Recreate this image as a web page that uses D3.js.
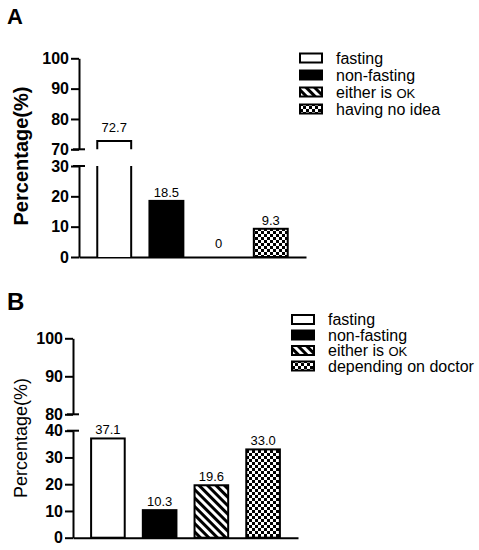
<!DOCTYPE html>
<head>
  <meta charset="utf-8">
  <title>Fasting survey bars</title>
  <script src="https://cdn.jsdelivr.net/npm/d3@7"></script>
  <style>
  body { margin: 0; background: white; }
  text { font-family: Arial, "Liberation Sans", sans-serif; }
  .axis path, .axis line { stroke: black; stroke-width: 2; }
  .axis text { font-size: 16px; font-weight: bold; fill: black; }
  </style>
</head>
<body>
<script>

// Data
var categoriesA = ["fasting", "non-fasting", "either is OK", "having no idea"];
var valuesA = [72.7, 18.5, 0, 9.3];
var labelsA = ["72.7", "18.5", "0", "9.3"];
var lowTicksA = [0, 10, 20, 30];
var highTicksA = [70, 80, 90, 100];

var categoriesB = ["fasting", "non-fasting", "either is OK", "depending on doctor"];
var valuesB = [37.1, 10.3, 19.6, 33.0];
var labelsB = ["37.1", "10.3", "19.6", "33.0"];
var lowTicksB = [0, 10, 20, 30, 40];
var highTicksB = [80, 90, 100];

var fills = ["white", "black", "url(#stripes)", "url(#checks)"];

var svg = d3.select("body").append("svg")
  .attr("width", 479)
  .attr("height", 550);

// Patterns for the hatched bars
var defs = svg.append("defs");
var stripes = defs.append("pattern")
  .attr("id", "stripes")
  .attr("patternUnits", "userSpaceOnUse")
  .attr("width", 6).attr("height", 6)
  .attr("patternTransform", "rotate(-45)");
stripes.append("rect").attr("width", 6).attr("height", 6).attr("fill", "white");
stripes.append("rect").attr("width", 3).attr("height", 6).attr("fill", "black");

var checks = defs.append("pattern")
  .attr("id", "checks")
  .attr("patternUnits", "userSpaceOnUse")
  .attr("width", 6).attr("height", 6);
checks.append("rect").attr("width", 6).attr("height", 6).attr("fill", "white");
checks.append("rect").attr("width", 3).attr("height", 3).attr("fill", "black");
checks.append("rect").attr("x", 3).attr("y", 3).attr("width", 3).attr("height", 3).attr("fill", "black");

function drawPanel(p) {
  var g = svg.append("g");

  // panel letter
  g.append("text")
    .attr("x", 7).attr("y", p.letterY)
    .style("font-size", p.letterSize + "px")
    .style("font-weight", "bold")
    .text(p.letter);

  // broken y axis: lower and upper segment
  var yLow = d3.scaleLinear().domain([0, d3.max(p.lowTicks)]).range([p.bottom, p.lowTop]);
  var yHigh = d3.scaleLinear().domain(d3.extent(p.highTicks)).range([p.highBottom, p.highTop]);

  var x = d3.scaleBand()
    .domain(p.categories)
    .range([p.left, p.right])
    .paddingInner(0.35)
    .paddingOuter(0.35);

  g.append("g").attr("class", "axis")
    .attr("transform", "translate(" + p.left + ",0)")
    .call(d3.axisLeft(yLow).tickValues(p.lowTicks).tickSize(8).tickSizeOuter(0).tickPadding(2));

  g.append("g").attr("class", "axis")
    .attr("transform", "translate(" + p.left + ",0)")
    .call(d3.axisLeft(yHigh).tickValues(p.highTicks).tickSize(8).tickSizeOuter(0).tickPadding(2));

  // caps at the break
  [p.lowTop, p.highBottom].forEach(function(yy) {
    g.append("line")
      .attr("x1", p.left - 6).attr("x2", p.left + 6)
      .attr("y1", yy).attr("y2", yy)
      .attr("stroke", "black").attr("stroke-width", 2);
  });

  // x axis line
  g.append("g").attr("class", "axis")
    .attr("transform", "translate(0," + p.bottom + ")")
    .call(d3.axisBottom(x).tickValues([]).tickSizeOuter(0));

  // y label
  g.append("text")
    .attr("transform", "translate(" + p.labelX + "," + p.labelY + ") rotate(-90)")
    .attr("text-anchor", "middle")
    .style("font-size", p.labelSize + "px")
    .style("font-weight", p.labelWeight)
    .text("Percentage(%)");

  var lowMax = d3.max(p.lowTicks);
  var bw = x.bandwidth();

  p.values.forEach(function(v, i) {
    var x0 = x(p.categories[i]);
    var top;
    if (v > lowMax) {
      // broken bar: open lower part + capped upper part
      top = yHigh(v);
      g.append("rect")
        .attr("x", x0).attr("y", p.lowTop)
        .attr("width", bw).attr("height", p.bottom - p.lowTop)
        .attr("fill", fills[i]);
      g.append("rect")
        .attr("x", x0).attr("y", top)
        .attr("width", bw).attr("height", p.highBottom - top)
        .attr("fill", fills[i]);
      g.append("path")
        .attr("d", "M" + x0 + "," + p.bottom + "V" + p.lowTop +
                   "M" + (x0 + bw) + "," + p.bottom + "V" + p.lowTop +
                   "M" + x0 + "," + p.highBottom + "V" + top + "H" + (x0 + bw) + "V" + p.highBottom)
        .attr("fill", "none").attr("stroke", "black").attr("stroke-width", 2);
    } else {
      top = yLow(v);
      if (v > 0) {
        g.append("rect")
          .attr("x", x0).attr("y", top)
          .attr("width", bw).attr("height", p.bottom - top)
          .attr("fill", fills[i])
          .attr("stroke", "black").attr("stroke-width", 2);
      }
    }
    g.append("text")
      .attr("x", x0 + bw / 2)
      .attr("y", top - (v > lowMax || v == 0 ? 9 : 4))
      .attr("text-anchor", "middle")
      .style("font-size", "13px")
      .text(p.labels[i]);
  });

  // legend
  var leg = g.selectAll(".leg")
    .data(p.categories)
    .enter().append("g")
    .attr("transform", function(d, i) { return "translate(" + p.legX + "," + (p.legY + i * p.legStep) + ")"; });

  leg.append("rect")
    .attr("x", 0).attr("y", -4.5)
    .attr("width", 22).attr("height", 9)
    .attr("fill", function(d, i) { return fills[i]; })
    .attr("stroke", "black").attr("stroke-width", 2);

  leg.append("text")
    .attr("x", 36).attr("dy", "0.35em")
    .style("font-size", "16px")
    .each(function(d) {
      var t = d3.select(this);
      if (d.slice(-3) == " OK") {
        t.text(d.slice(0, -2));
        t.append("tspan").style("font-size", "13px").text("OK");
      } else {
        t.text(d);
      }
    });
}

drawPanel({
  letter: "A", letterY: 24, letterSize: 22,
  categories: categoriesA, values: valuesA, labels: labelsA,
  lowTicks: lowTicksA, highTicks: highTicksA,
  left: 79, right: 306, bottom: 257, lowTop: 166, highBottom: 149.3, highTop: 58.3,
  labelX: 28, labelY: 156, labelSize: 20, labelWeight: "bold",
  legX: 300, legY: 58, legStep: 17
});

drawPanel({
  letter: "B", letterY: 310, letterSize: 24,
  categories: categoriesB, values: valuesB, labels: labelsB,
  lowTicks: lowTicksB, highTicks: highTicksB,
  left: 73, right: 298, bottom: 537.7, lowTop: 430.7, highBottom: 414.3, highTop: 338.3,
  labelX: 26.5, labelY: 438, labelSize: 18, labelWeight: "normal",
  legX: 292, legY: 319.5, legStep: 15.5
});

</script>
</body>
</html>
